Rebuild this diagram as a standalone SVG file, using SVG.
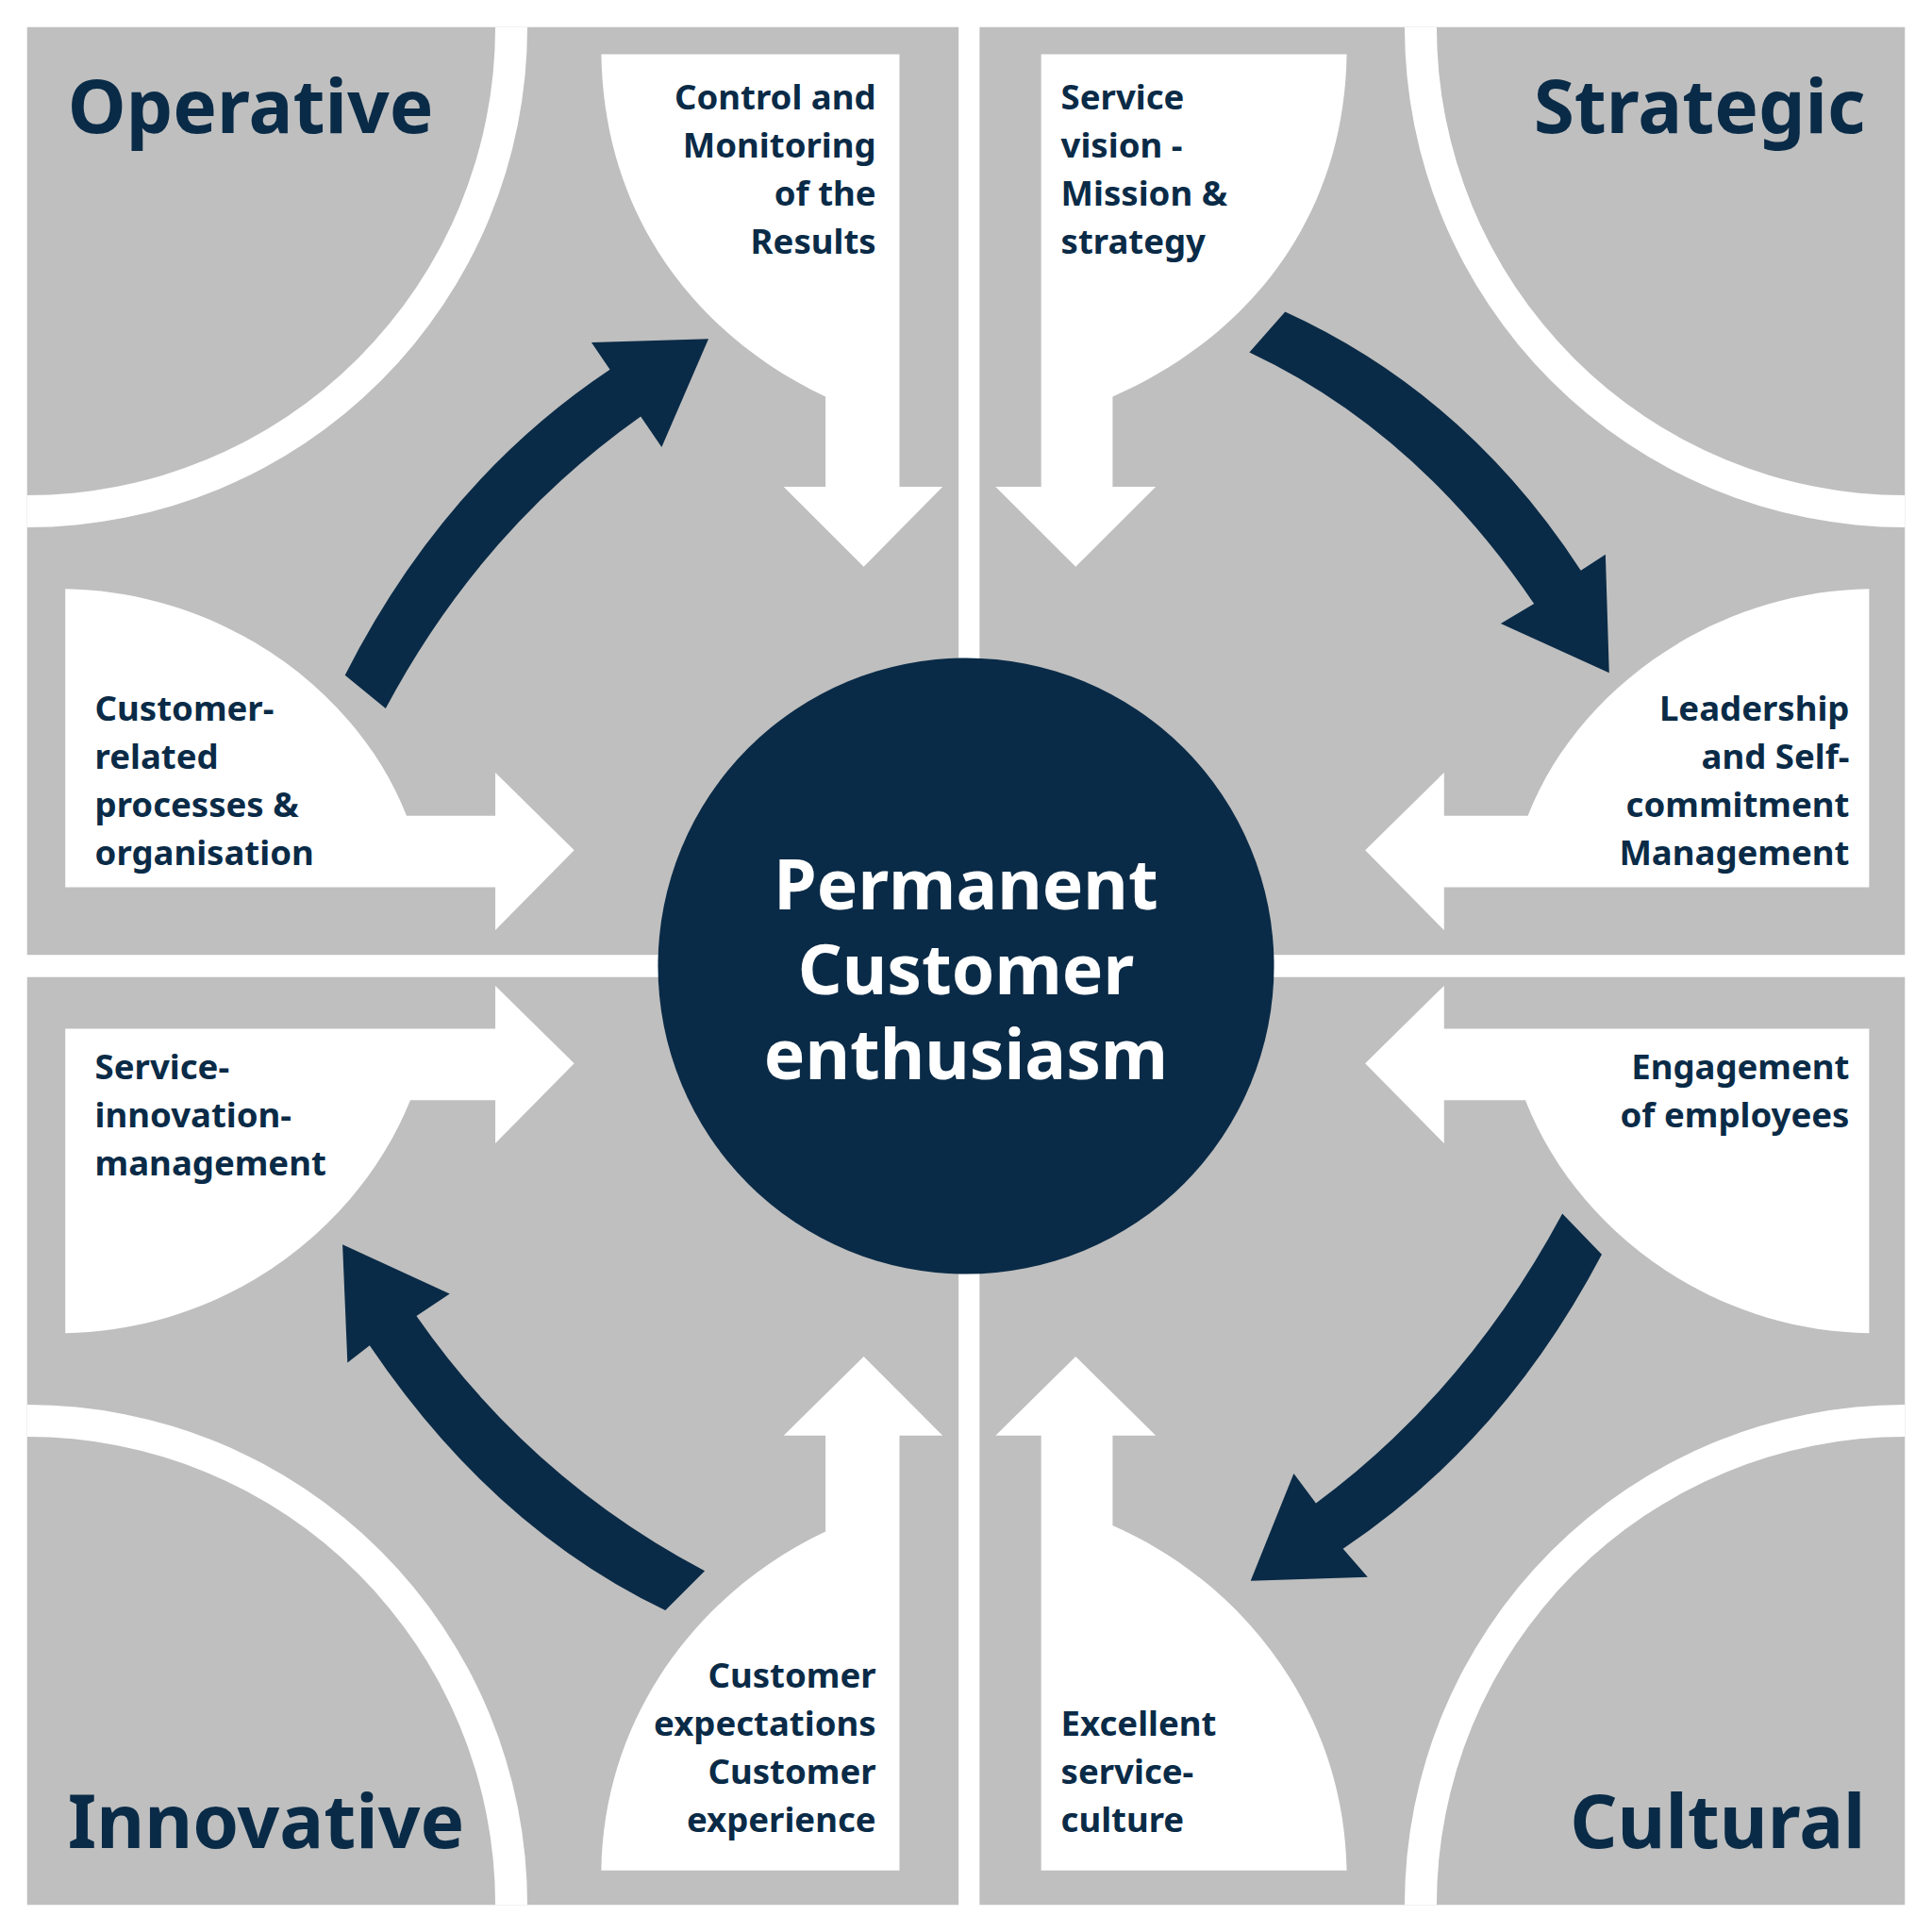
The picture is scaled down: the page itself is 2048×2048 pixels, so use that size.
<svg xmlns="http://www.w3.org/2000/svg" width="2048" height="2048" viewBox="0 0 2048 2048">
<style>
.q{fill:#bfbfbf}
.w{fill:#fff}
.d{fill:#0a2b47}
.t{font-family:"Noto Sans","DejaVu Sans",sans-serif;font-weight:bold;fill:#0a2b47;font-size:28px}
.h{font-family:"Noto Sans","DejaVu Sans",sans-serif;font-weight:bold;fill:#0a2b47;font-size:60px}
.c{font-family:"Noto Sans","DejaVu Sans",sans-serif;font-weight:bold;fill:#fff;font-size:56px;text-anchor:middle}
.r{text-anchor:end}
</style>
<rect width="2048" height="2048" fill="#fff"/>
<g transform="scale(1.30612)">
<g id="quadrants">
<rect class="q" x="22" y="22" width="756" height="753"/>
<rect class="q" x="795" y="22" width="751" height="753"/>
<rect class="q" x="22" y="793" width="756" height="753"/>
<rect class="q" x="795" y="793" width="751" height="753"/>
<path d="M402,22 L428,22 A406,406 0 0 1 22,428 L22,402 A380,380 0 0 0 402,22 Z" class="w"/>
<path d="M1166,22 L1140,22 A406,406 0 0 0 1546,428 L1546,402 A380,380 0 0 1 1166,22 Z" class="w"/>
<path d="M22,1166 L22,1140 A406,406 0 0 1 428,1546 L402,1546 A380,380 0 0 0 22,1166 Z" class="w"/>
<path d="M1546,1166 L1546,1140 A406,406 0 0 0 1140,1546 L1166,1546 A380,380 0 0 1 1546,1166 Z" class="w"/>
</g>
<g id="titles">
<text class="h" x="55" y="108">Operative</text>
<text class="h r" x="1514" y="108">Strategic</text>
<text class="h" x="55" y="1500">Innovative</text>
<text class="h r" x="1514" y="1500">Cultural</text>
</g>
<g id="node-control">
<path class="w" d="M488,44 L730,44 L730,395 L765,395 L701,460 L636,395 L670,395 L670,322 C570,275 490,180 488,44 Z"/>
<text class="t r" x="711"><tspan x="711" y="89">Control and</tspan><tspan x="711" y="128">Monitoring</tspan><tspan x="711" y="167">of the</tspan><tspan x="711" y="206">Results</tspan></text>
</g>
<g id="node-vision">
<path class="w" d="M1093,44 L845,44 L845,395 L808,395 L873,460 L938,395 L903,395 L903,322 C1010,275 1091,180 1093,44 Z"/>
<text class="t" x="861"><tspan x="861" y="89">Service</tspan><tspan x="861" y="128">vision -</tspan><tspan x="861" y="167">Mission &amp;</tspan><tspan x="861" y="206">strategy</tspan></text>
</g>
<g id="node-processes">
<path class="w" d="M53,478 C180,480 290,560 330,662 L402,662 L402,627 L466,690 L402,755 L402,720 L53,720 Z"/>
<text class="t" x="77"><tspan x="77" y="585">Customer-</tspan><tspan x="77" y="624">related</tspan><tspan x="77" y="663">processes &amp;</tspan><tspan x="77" y="702">organisation</tspan></text>
</g>
<g id="node-leadership">
<path class="w" d="M1517,478 C1390,480 1280,560 1240,662 L1172,662 L1172,627 L1108,690 L1172,755 L1172,720 L1517,720 Z"/>
<text class="t r" x="1501"><tspan x="1501" y="585">Leadership</tspan><tspan x="1501" y="624">and Self-</tspan><tspan x="1501" y="663">commitment</tspan><tspan x="1501" y="702">Management</tspan></text>
</g>
<g id="node-innovation">
<path class="w" d="M53,835 L402,835 L402,800 L466,863 L402,928 L402,893 L333,893 C290,1000 180,1080 53,1082 Z"/>
<text class="t" x="77"><tspan x="77" y="876">Service-</tspan><tspan x="77" y="915">innovation-</tspan><tspan x="77" y="954">management</tspan></text>
</g>
<g id="node-engagement">
<path class="w" d="M1517,835 L1172,835 L1172,800 L1108,863 L1172,928 L1172,893 L1238,893 C1280,1000 1390,1080 1517,1082 Z"/>
<text class="t r" x="1501"><tspan x="1501" y="876">Engagement</tspan><tspan x="1501" y="915">of employees</tspan></text>
</g>
<g id="node-expectations">
<path class="w" d="M488,1518 L730,1518 L730,1165 L765,1165 L701,1101 L636,1165 L670,1165 L670,1243 C570,1290 490,1390 488,1518 Z"/>
<text class="t r" x="711"><tspan x="711" y="1370">Customer</tspan><tspan x="711" y="1409">expectations</tspan><tspan x="711" y="1448">Customer</tspan><tspan x="711" y="1487">experience</tspan></text>
</g>
<g id="node-culture">
<path class="w" d="M1093,1518 L845,1518 L845,1165 L808,1165 L873,1101 L938,1165 L903,1165 L903,1238 C1010,1285 1091,1390 1093,1518 Z"/>
<text class="t" x="861"><tspan x="861" y="1409">Excellent</tspan><tspan x="861" y="1448">service-</tspan><tspan x="861" y="1487">culture</tspan></text>
</g>
<g id="center">
<circle class="d" cx="784" cy="784" r="250"/>
<text class="c" x="784"><tspan x="784" y="738">Permanent</tspan><tspan x="784" y="807">Customer</tspan><tspan x="784" y="876">enthusiasm</tspan></text>
</g>
<g id="connectors">
<path class="d" d="M280,548 Q360,390 495,300 L480,278 L575,275 L537,363 L520,338 Q390,430 313,575 Z"/>
<path class="d" d="M1043,253 Q1190,320 1283,463 L1303,450 L1306,546 L1218,506 L1245,490 Q1150,350 1014,286 Z"/>
<path class="d" d="M1300,1018 Q1220,1170 1090,1257 L1110,1280 L1015,1283 L1050,1196 L1068,1220 Q1190,1130 1268,985 Z"/>
<path class="d" d="M572,1275 Q430,1200 338,1068 L365,1050 L278,1010 L282,1106 L300,1092 Q400,1240 540,1307 Z"/>
</g>
</g>
</svg>
